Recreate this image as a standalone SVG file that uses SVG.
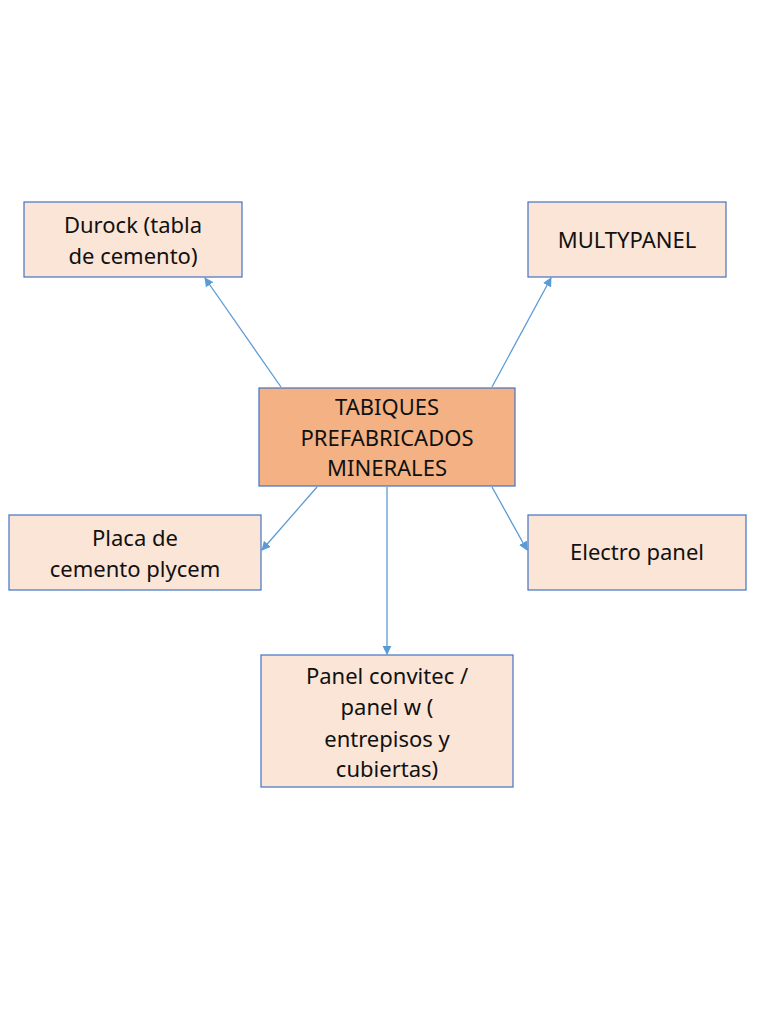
<svg xmlns="http://www.w3.org/2000/svg" width="768" height="1024" viewBox="0 0 768 1024">
<style>
.box{fill:#fbe5d6;stroke:#4472c4;stroke-width:1.2}
.main{fill:#f4b183;stroke:#4472c4;stroke-width:1.2}
text{font-family:"Noto Sans","Liberation Sans",sans-serif;font-size:22px;fill:#111;text-anchor:middle}
.c{stroke:#5b9bd5;stroke-width:1.3;fill:none;marker-end:url(#a)}
</style>
<defs><marker id="a" viewBox="0 0 10 10" refX="9" refY="5" markerWidth="7" markerHeight="7" orient="auto"><path d="M0,0L10,5L0,10z" fill="#5b9bd5"/></marker></defs>
<rect width="768" height="1024" fill="#fff"/>
<g id="connectors">
<path class="c" d="M281,387L205,278"/>
<path class="c" d="M492,387L551,278"/>
<path class="c" d="M317,487L262,550"/>
<path class="c" d="M492,487L527,550"/>
<path class="c" d="M387,487L387,654"/>
</g>
<g id="center"><rect class="main" x="259" y="388" width="256" height="98"/>
<text x="387" y="415">TABIQUES</text><text x="387" y="446">PREFABRICADOS</text><text x="387" y="476">MINERALES</text></g>
<g id="durock"><rect class="box" x="24" y="202" width="218" height="75"/>
<text x="133" y="233">Durock (tabla</text><text x="133" y="264">de cemento)</text></g>
<g id="multypanel"><rect class="box" x="528" y="202" width="198" height="75"/>
<text x="627" y="248">MULTYPANEL</text></g>
<g id="placa"><rect class="box" x="9" y="515" width="252" height="75"/>
<text x="135" y="546">Placa de</text><text x="135" y="577">cemento  plycem</text></g>
<g id="electro"><rect class="box" x="528" y="515" width="218" height="75"/>
<text x="637" y="560">Electro panel</text></g>
<g id="convitec"><rect class="box" x="261" y="655" width="252" height="132"/>
<text x="387" y="684">Panel convitec /</text><text x="387" y="715">panel w (</text><text x="387" y="747">entrepisos y</text><text x="387" y="777">cubiertas)</text></g>
</svg>
